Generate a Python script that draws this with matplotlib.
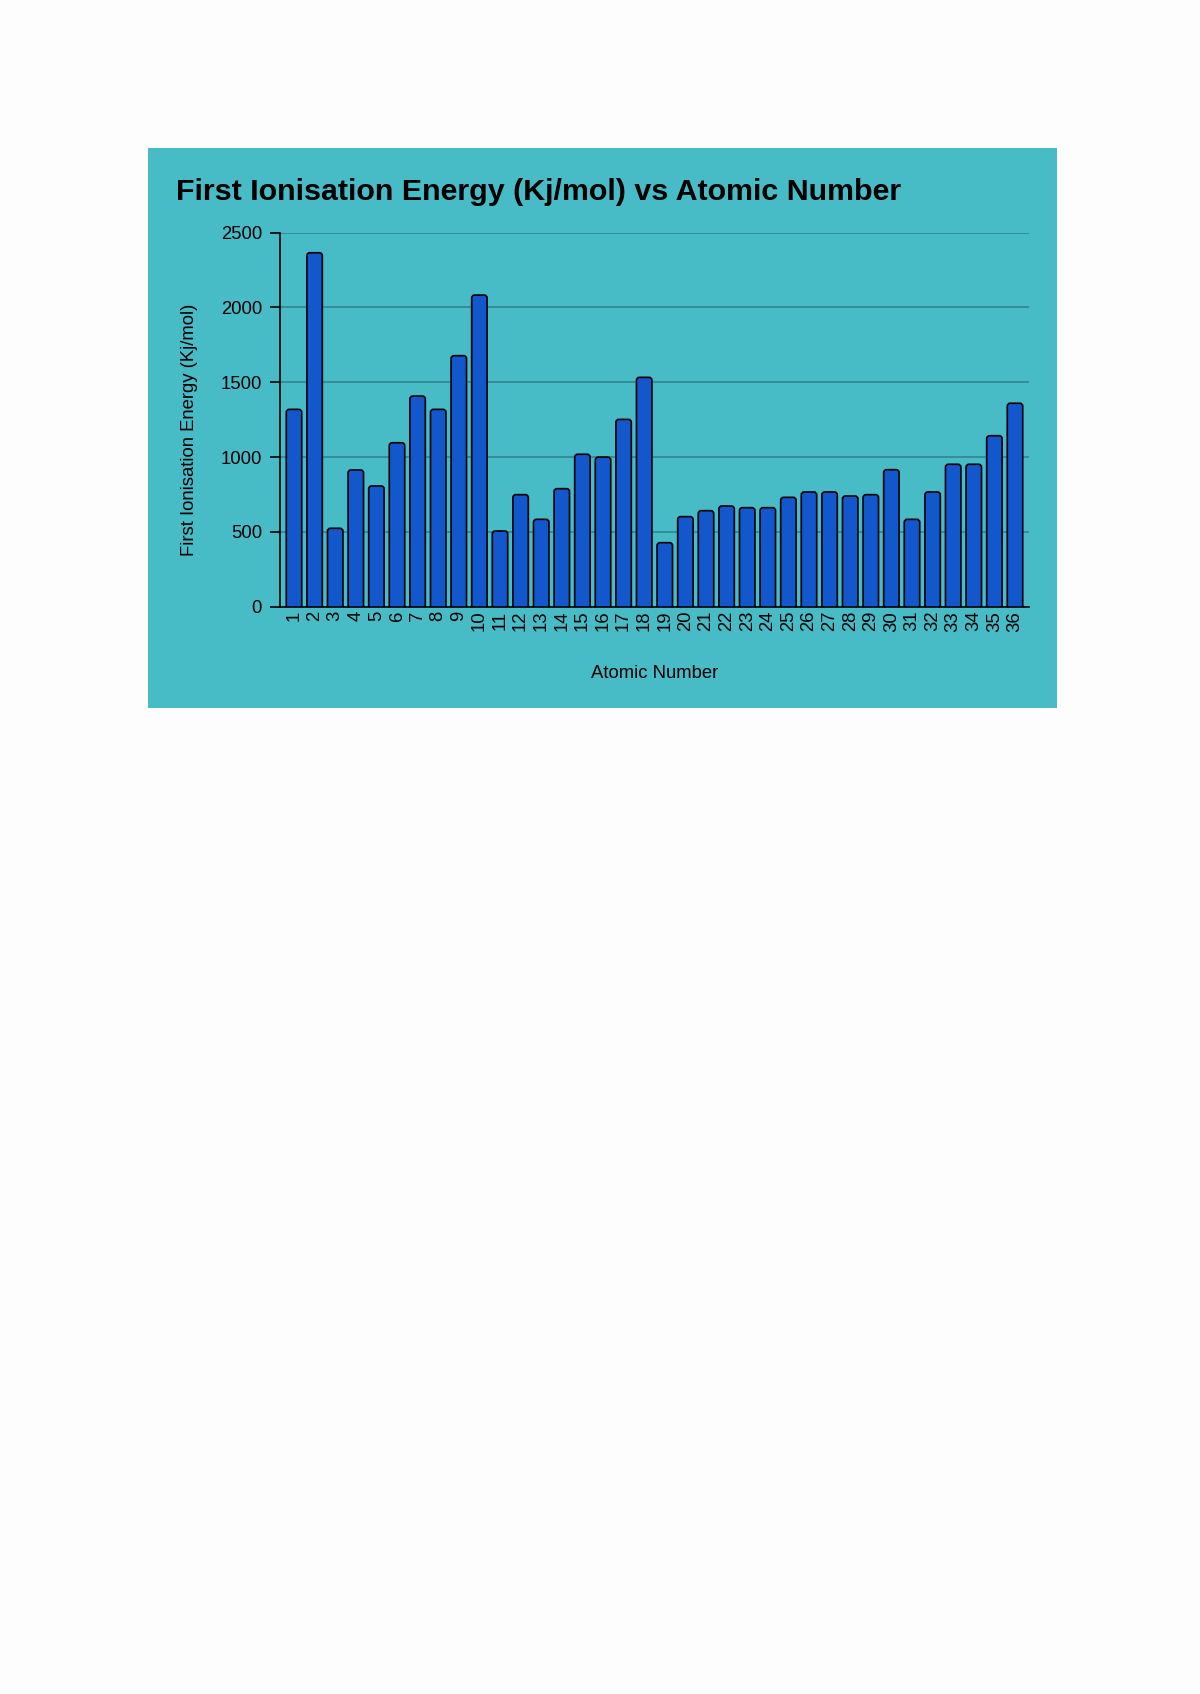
import matplotlib.pyplot as plt
from matplotlib.patches import Rectangle, FancyBboxPatch

# values
atomic_numbers = list(range(1, 37))
energies = [1319, 2366, 524, 914, 807, 1096, 1408, 1319, 1678, 2083,
            506, 749, 584, 789, 1019, 1000, 1252, 1533, 428, 602,
            642, 673, 662, 662, 731, 767, 767, 740, 749, 916,
            584, 767, 952, 952, 1143, 1360]
tick_labels = [str(n) for n in atomic_numbers]
y_ticks = [0, 500, 1000, 1500, 2000, 2500]

teal = '#47bbc6'
bar_blue = '#1257cc'
grid_teal = '#2f8690'

W, H = 1200, 1694
fig = plt.figure(figsize=(W / 100, H / 100), dpi=100)
fig.patch.set_facecolor('#fdfdfd')
plt.rcParams['font.family'] = ['Liberation Sans', 'DejaVu Sans']

# teal panel behind the chart
fig.patches.append(Rectangle((148 / W, 1 - 708 / H), (1056.5 - 148) / W, (708 - 148) / H,
                             transform=fig.transFigure, facecolor=teal, edgecolor='none', zorder=-1))

ax = fig.add_axes([280 / W, 1 - 606.7 / H, (1029 - 280) / W, (606.7 - 232.7) / H])
ax.set_facecolor(teal)
ax.set_xlim(0.32, 36.68)
ax.set_ylim(0, 2500)

bars = ax.bar(atomic_numbers, energies, width=0.75, color=bar_blue, edgecolor='black', linewidth=1.2, zorder=3)

# swap plain bars for ones with slightly rounded tops
px_x = (36.68 - 0.32) / 749.0
px_y = 2500 / 374.0
for b in bars:
    x, w, h = b.get_x(), b.get_width(), b.get_height()
    r = 3 * px_x
    fb = FancyBboxPatch((x, -8 * px_y), w, h + 8 * px_y,
                        boxstyle='round,pad=0,rounding_size=%f' % r,
                        mutation_aspect=px_y / px_x,
                        facecolor=bar_blue, edgecolor='black', linewidth=1.2, zorder=3)
    ax.add_patch(fb)
    b.set_visible(False)

ax.set_yticks(y_ticks)
ax.set_xticks(atomic_numbers)
ax.set_xticklabels(tick_labels, rotation=90)
ax.tick_params(axis='x', length=0, pad=3, labelsize=13.3)
ax.tick_params(axis='y', length=7, width=1.2, direction='out', labelsize=13.3, pad=6)
ax.yaxis.grid(True, color=grid_teal, linewidth=1.2, zorder=0)
ax.set_axisbelow(True)

for side in ['top', 'right']:
    ax.spines[side].set_visible(False)
for side in ['left', 'bottom']:
    ax.spines[side].set_linewidth(1.2)
    ax.spines[side].set_zorder(4)

ax.set_ylabel('First Ionisation Energy (Kj/mol)', fontsize=13.3)
ax.yaxis.set_label_coords(-0.110, 0.474)
ax.set_xlabel('Atomic Number', fontsize=13.3, labelpad=24)

fig.text(176 / W, 1 - 200 / H, 'First Ionisation Energy (Kj/mol) vs Atomic Number',
         fontsize=21.9, fontweight='bold', ha='left', va='baseline')

plt.savefig('out.png', dpi=100, facecolor=fig.get_facecolor())
